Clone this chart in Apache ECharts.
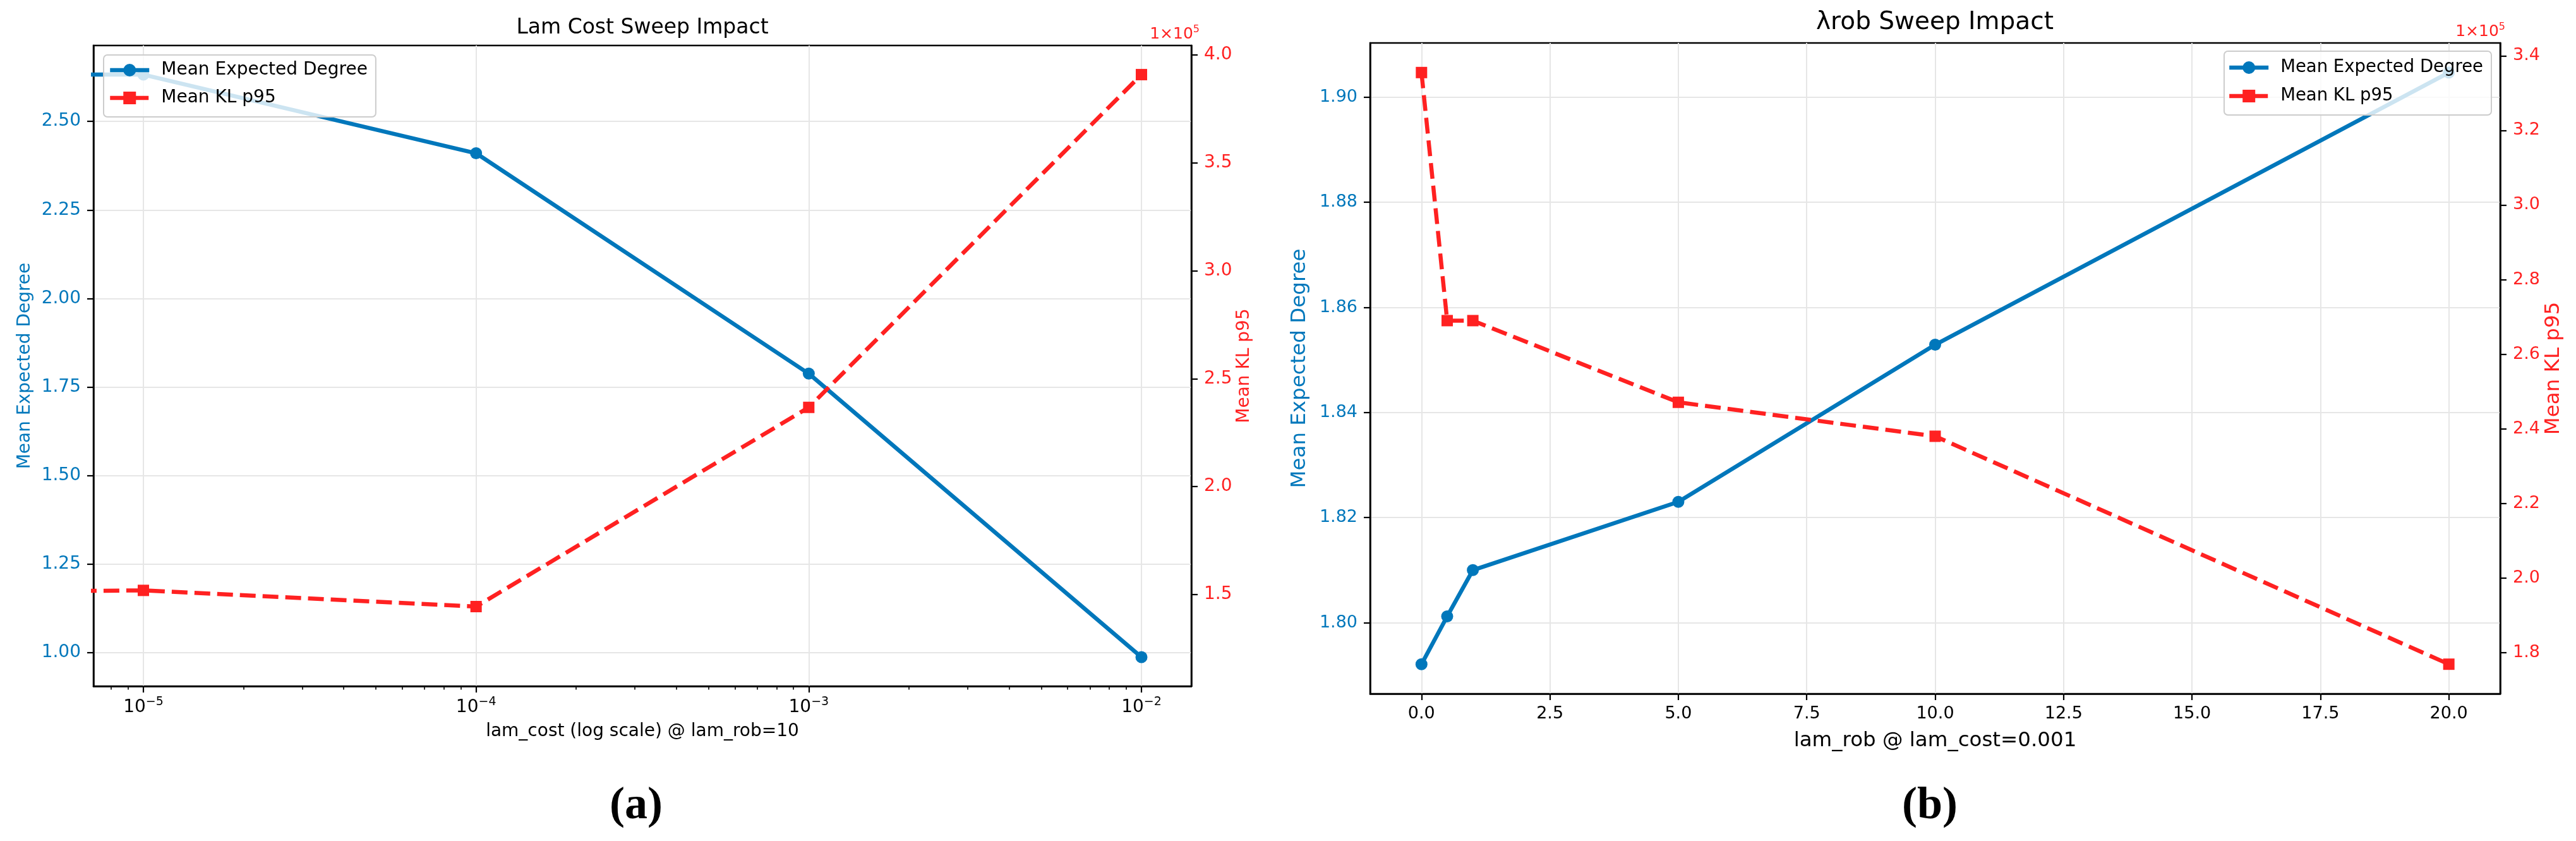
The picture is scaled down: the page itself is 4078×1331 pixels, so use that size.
<!DOCTYPE html>
<html>
<head>
<meta charset="utf-8">
<title>Sweep Impact</title>
<script src="https://cdn.jsdelivr.net/npm/echarts@6/dist/echarts.min.js"></script>
<style>
  html, body { margin: 0; padding: 0; background: #fff; }
  #chart { width: 4078px; height: 1331px; }
</style>
</head>
<body>
<div id="chart"></div>
<script>
// (a) lam_cost sweep @ lam_rob=10 -- first entry is lam_cost = 0, which falls off the log axis
const lamCost = [0, 1e-5, 1e-4, 1e-3, 1e-2]
const costDegree = [2.632, 2.632, 2.41, 1.788, 0.988]
const costKl = [121000, 151900, 144400, 236700, 390900]

// (b) lam_rob sweep @ lam_cost=0.001
const lamRob = [0, 0.5, 1, 5, 10, 20]
const robDegree = [1.7921, 1.8012, 1.810, 1.823, 1.8529, 1.9047]
const robKl = [335500, 269000, 269000, 247100, 238000, 176900]

// tick values
const costTicks = [1e-5, 1e-4, 1e-3, 1e-2]
const costMinorTicks = [8e-6, 9e-6,
  2e-5, 3e-5, 4e-5, 5e-5, 6e-5, 7e-5, 8e-5, 9e-5,
  2e-4, 3e-4, 4e-4, 5e-4, 6e-4, 7e-4, 8e-4, 9e-4,
  2e-3, 3e-3, 4e-3, 5e-3, 6e-3, 7e-3, 8e-3, 9e-3]
const costDegreeTicks = [1.00, 1.25, 1.50, 1.75, 2.00, 2.25, 2.50]
const costKlTicks = [150000, 200000, 250000, 300000, 350000, 400000]
const robTicks = [0, 2.5, 5, 7.5, 10, 12.5, 15, 17.5, 20]
const robDegreeTicks = [1.80, 1.82, 1.84, 1.86, 1.88, 1.90]
const robKlTicks = [180000, 200000, 220000, 240000, 260000, 280000, 300000, 320000, 340000]

const NAME_DEG = 'Mean Expected Degree'
const NAME_KL = 'Mean KL p95'
const BLUE = '#0077bb'
const RED = '#ff2121'
const FONT = 'DejaVu Sans'
const GRID_LINE = '#e6e6e6'

// matplotlib-like 5% autoscale margins
const pad = (vals, log) => {
  const v = log ? vals.filter(x => x > 0).map(Math.log10) : vals
  const lo = Math.min(...v), hi = Math.max(...v), m = (hi - lo) * 0.05
  return log ? [10 ** (lo - m), 10 ** (hi + m)] : [lo - m, hi + m]
}

const costX = pad(lamCost, true)
const costY1 = pad(costDegree)
const costY2 = pad(costKl)
const robX = pad(lamRob)
const robY1 = pad(robDegree)
const robY2 = pad(robKl)

// lam_cost = 0 is put far left of the log axis so its segment enters flat from the edge
const logSafe = x => (x > 0 ? x : 1e-30)
const pairs = (xs, ys, f) => xs.map((x, i) => [f ? f(x) : x, ys[i]])

const axisBase = (fontSize, color) => ({
  axisLine: { show: true, onZero: false, lineStyle: { color: '#000', width: 2.5 } },
  axisTick: { show: true, inside: false, length: 10, lineStyle: { color: '#000', width: 2.2 } },
  axisLabel: { fontFamily: FONT, fontSize: fontSize, color: color, margin: 18 },
  nameTextStyle: { fontFamily: FONT, fontSize: fontSize, color: color },
  splitLine: { show: false }
})

const supFormatter = v => {
  const e = Math.round(Math.log10(v))
  return '{b|10}{s|' + (e < 0 ? '\u2212' : '') + Math.abs(e) + '}'
}

const chart = echarts.init(document.getElementById('chart'), null, { renderer: 'canvas' })

const lineSeries = (name, data, xi, yi, opt) => Object.assign({
  name: name,
  type: 'line',
  xAxisIndex: xi,
  yAxisIndex: yi,
  data: data,
  clip: true,
  symbolSize: 19,
  showAllSymbol: true
}, opt)

const blueStyle = {
  symbol: 'circle',
  itemStyle: { color: BLUE },
  lineStyle: { color: BLUE, width: 6.5 },
  z: 2
}
const redStyle = {
  symbol: 'rect',
  symbolSize: 18,
  itemStyle: { color: RED },
  lineStyle: { color: RED, width: 6.5, type: [25, 11] },
  z: 3
}

const legendBase = {
  data: [NAME_DEG, NAME_KL],
  orient: 'vertical', align: 'left',
  itemWidth: 62, itemHeight: 25,
  backgroundColor: 'rgba(255,255,255,0.8)',
  borderColor: '#cccccc', borderWidth: 2, borderRadius: 6,
  lineStyle: { width: 6.5 }
}

const option = {
  animation: false,
  backgroundColor: '#fff',
  textStyle: { fontFamily: FONT },
  grid: [
    { left: 148, top: 72, width: 1738, height: 1014, show: true, borderColor: '#000', borderWidth: 2.5, backgroundColor: 'transparent', outerBoundsMode: 'none' },
    { left: 2169, top: 68, width: 1789, height: 1030, show: true, borderColor: '#000', borderWidth: 2.5, backgroundColor: 'transparent', outerBoundsMode: 'none' }
  ],
  xAxis: [
    Object.assign(axisBase(28, '#000'), {
      type: 'log', gridIndex: 0, position: 'bottom', logBase: 10,
      min: costX[0], max: costX[1],
      name: 'lam_cost (log scale) @ lam_rob=10', nameLocation: 'middle', nameGap: 58,
      axisTick: { show: true, length: 10, customValues: costTicks, lineStyle: { color: '#000', width: 2.2 } },
      axisLabel: {
        customValues: costTicks, margin: 16, formatter: supFormatter,
        rich: {
          b: { fontFamily: FONT, fontSize: 28, color: '#000', lineHeight: 36 },
          s: { fontFamily: FONT, fontSize: 19, color: '#000', lineHeight: 20, verticalAlign: 'top' }
        }
      },
      splitLine: { show: true, lineStyle: { color: GRID_LINE, width: 2 } }
    }),
    {
      // minor ticks of the log axis
      type: 'log', gridIndex: 0, position: 'bottom', logBase: 10,
      min: costX[0], max: costX[1],
      axisLine: { show: false },
      axisLabel: { show: false },
      splitLine: { show: false },
      axisTick: { show: true, length: 5.5, customValues: costMinorTicks, lineStyle: { color: '#000', width: 1.6 } }
    },
    Object.assign(axisBase(27, '#000'), {
      type: 'value', gridIndex: 1, position: 'bottom',
      min: robX[0], max: robX[1],
      name: 'lam_rob @ lam_cost=0.001', nameLocation: 'middle', nameGap: 58,
      nameTextStyle: { fontFamily: FONT, fontSize: 32.5, color: '#000' },
      axisTick: { show: true, length: 10, customValues: robTicks, lineStyle: { color: '#000', width: 2.2 } },
      axisLabel: { customValues: robTicks, fontFamily: FONT, fontSize: 27, color: '#000', margin: 18, formatter: v => v.toFixed(1) },
      splitLine: { show: true, lineStyle: { color: GRID_LINE, width: 2 } }
    })
  ],
  yAxis: [
    Object.assign(axisBase(28, BLUE), {
      type: 'value', gridIndex: 0, position: 'left',
      min: costY1[0], max: costY1[1],
      name: NAME_DEG, nameLocation: 'middle', nameRotate: 90, nameGap: 94,
      axisTick: { show: true, length: 10, customValues: costDegreeTicks, lineStyle: { color: '#000', width: 2.2 } },
      axisLabel: { customValues: costDegreeTicks, fontFamily: FONT, fontSize: 28, color: BLUE, margin: 20, formatter: v => v.toFixed(2) },
      splitLine: { show: true, lineStyle: { color: GRID_LINE, width: 2 } }
    }),
    Object.assign(axisBase(28, RED), {
      type: 'value', gridIndex: 0, position: 'right',
      min: costY2[0], max: costY2[1],
      name: NAME_KL, nameLocation: 'middle', nameRotate: 90, nameGap: 70,
      axisTick: { show: true, length: 10, customValues: costKlTicks, lineStyle: { color: '#000', width: 2.2 } },
      axisLabel: { customValues: costKlTicks, fontFamily: FONT, fontSize: 28, color: RED, margin: 20, formatter: v => (v / 1e5).toFixed(1) }
    }),
    Object.assign(axisBase(27, BLUE), {
      type: 'value', gridIndex: 1, position: 'left',
      min: robY1[0], max: robY1[1],
      name: NAME_DEG, nameLocation: 'middle', nameRotate: 90, nameGap: 95,
      nameTextStyle: { fontFamily: FONT, fontSize: 32.5, color: BLUE },
      axisTick: { show: true, length: 10, customValues: robDegreeTicks, lineStyle: { color: '#000', width: 2.2 } },
      axisLabel: { customValues: robDegreeTicks, fontFamily: FONT, fontSize: 27, color: BLUE, margin: 20, formatter: v => v.toFixed(2) },
      splitLine: { show: true, lineStyle: { color: GRID_LINE, width: 2 } }
    }),
    Object.assign(axisBase(27, RED), {
      type: 'value', gridIndex: 1, position: 'right',
      min: robY2[0], max: robY2[1],
      name: NAME_KL, nameLocation: 'middle', nameRotate: 90, nameGap: 68,
      nameTextStyle: { fontFamily: FONT, fontSize: 32.5, color: RED },
      axisTick: { show: true, length: 10, customValues: robKlTicks, lineStyle: { color: '#000', width: 2.2 } },
      axisLabel: { customValues: robKlTicks, fontFamily: FONT, fontSize: 27, color: RED, margin: 20, formatter: v => (v / 1e5).toFixed(1) }
    })
  ],
  legend: [
    Object.assign({}, legendBase, {
      left: 164, top: 87, itemGap: 16,
      padding: [10, 13, 16, 7],
      textStyle: { fontFamily: FONT, fontSize: 28, color: '#000', padding: [0, 0, 0, 14] }
    }),
    Object.assign({}, legendBase, {
      right: 134, top: 81, itemGap: 17,
      padding: [12, 13, 16, 5],
      textStyle: { fontFamily: FONT, fontSize: 27.5, color: '#000', padding: [0, 0, 0, 14] }
    })
  ],
  graphic: [
    { type: 'text', x: 1017, y: 44, style: { text: 'Lam Cost Sweep Impact', font: '33px "DejaVu Sans"', fill: '#000', textAlign: 'center', textVerticalAlign: 'middle' } },
    { type: 'text', x: 3063, y: 36, style: { text: '\u03bbrob Sweep Impact', font: '39px "DejaVu Sans"', fill: '#000', textAlign: 'center', textVerticalAlign: 'middle' } },
    { type: 'text', x: 1899, y: 54, style: { text: '{n|1\u00d710}{s|5}', textAlign: 'right', textVerticalAlign: 'middle',
        rich: { n: { fontFamily: FONT, fontSize: 25, fill: RED, lineHeight: 30 }, s: { fontFamily: FONT, fontSize: 16, fill: RED, lineHeight: 16, verticalAlign: 'top' } } } },
    { type: 'text', x: 3966, y: 50, style: { text: '{n|1\u00d710}{s|5}', textAlign: 'right', textVerticalAlign: 'middle',
        rich: { n: { fontFamily: FONT, fontSize: 25, fill: RED, lineHeight: 30 }, s: { fontFamily: FONT, fontSize: 16, fill: RED, lineHeight: 16, verticalAlign: 'top' } } } },
    { type: 'text', x: 1007, y: 1276, style: { text: '(a)', font: 'bold 72px "Liberation Serif"', fill: '#000', textAlign: 'center', textVerticalAlign: 'middle' } },
    { type: 'text', x: 3055, y: 1276, style: { text: '(b)', font: 'bold 72px "Liberation Serif"', fill: '#000', textAlign: 'center', textVerticalAlign: 'middle' } }
  ],
  series: [
    lineSeries(NAME_DEG, pairs(lamCost, costDegree, logSafe), 0, 0, blueStyle),
    lineSeries(NAME_KL, pairs(lamCost, costKl, logSafe), 0, 1, redStyle),
    lineSeries(NAME_DEG, pairs(lamRob, robDegree), 2, 2, blueStyle),
    lineSeries(NAME_KL, pairs(lamRob, robKl), 2, 3, redStyle)
  ]
}

chart.setOption(option)
window.addEventListener('resize', () => chart.resize())
</script>
</body>
</html>
